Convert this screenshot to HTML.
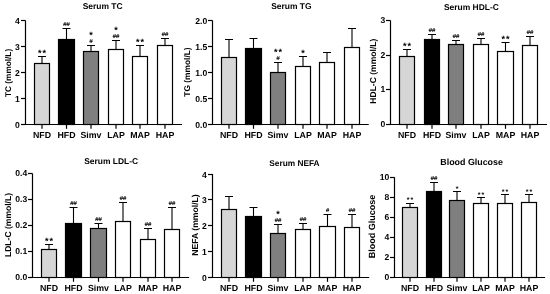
<!DOCTYPE html>
<html><head><meta charset="utf-8"><title>Serum lipid panels</title>
<style>
html,body{margin:0;padding:0;background:#fff;}
body{width:550px;height:294px;overflow:hidden;}
svg{display:block;font-family:'Liberation Sans', Arial, sans-serif;text-rendering:geometricPrecision;}
.wrap{}
text{fill:#000;}
.h{font-size:5.6px;stroke:#000;stroke-width:0.15px;}
.s{font-size:9px;font-weight:bold;letter-spacing:0.8px;}
.ss{font-size:7px;font-weight:bold;letter-spacing:1.2px;}
</style></head>
<body>
<div class="wrap"><svg width="550" height="294" viewBox="0 0 550 294">
<rect width="550" height="294" fill="#fff"/>
<g>
<text x="102.6" y="8.6" text-anchor="middle" font-size="8.45" font-weight="bold">Serum TC</text>
<text transform="translate(11.4,72.9) rotate(-90)" text-anchor="middle" font-size="8.25" font-weight="bold">TC (mmol/L)</text>
<rect x="34.5" y="63.5" width="15" height="61" fill="#d6d6d6" stroke="#000" stroke-width="1.2"/>
<path d="M42 63.5V56.5M38 56.5H46" stroke="#000" stroke-width="1.1" fill="none"/>
<text x="42.4" y="56.47" text-anchor="middle" class="s">**</text>
<path d="M42 124.5V128.8" stroke="#000" stroke-width="1.2"/>
<text x="42" y="137.9" text-anchor="middle" font-size="8.8" font-weight="bold">NFD</text>
<rect x="58.5" y="39.5" width="16" height="85" fill="#000" stroke="#000" stroke-width="1.2"/>
<path d="M66.5 39.5V28.5M62.5 28.5H70.5" stroke="#000" stroke-width="1.1" fill="none"/>
<text x="66.5" y="25.55" text-anchor="middle" textLength="6.6" lengthAdjust="spacingAndGlyphs" class="h">##</text>
<path d="M66.5 124.5V128.8" stroke="#000" stroke-width="1.2"/>
<text x="66.5" y="137.9" text-anchor="middle" font-size="8.8" font-weight="bold">HFD</text>
<rect x="83.5" y="51.5" width="15" height="73" fill="#7f7f7f" stroke="#000" stroke-width="1.2"/>
<path d="M91 51.5V45.5M87 45.5H95" stroke="#000" stroke-width="1.1" fill="none"/>
<text x="91" y="42.55" text-anchor="middle" textLength="3.2" lengthAdjust="spacingAndGlyphs" class="h">#</text>
<text x="91.4" y="37.97" text-anchor="middle" class="s">*</text>
<path d="M91 124.5V128.8" stroke="#000" stroke-width="1.2"/>
<text x="91" y="137.9" text-anchor="middle" font-size="8.8" font-weight="bold">Simv</text>
<rect x="108.5" y="49.5" width="15" height="75" fill="#fff" stroke="#000" stroke-width="1.2"/>
<path d="M116 49.5V40.5M112 40.5H120" stroke="#000" stroke-width="1.1" fill="none"/>
<text x="116" y="37.55" text-anchor="middle" textLength="6.6" lengthAdjust="spacingAndGlyphs" class="h">##</text>
<text x="116.4" y="32.97" text-anchor="middle" class="s">*</text>
<path d="M116 124.5V128.8" stroke="#000" stroke-width="1.2"/>
<text x="116" y="137.9" text-anchor="middle" font-size="8.8" font-weight="bold">LAP</text>
<rect x="132.5" y="56.5" width="15" height="68" fill="#fff" stroke="#000" stroke-width="1.2"/>
<path d="M140 56.5V45.5M136 45.5H144" stroke="#000" stroke-width="1.1" fill="none"/>
<text x="140.4" y="45.47" text-anchor="middle" class="s">**</text>
<path d="M140 124.5V128.8" stroke="#000" stroke-width="1.2"/>
<text x="140" y="137.9" text-anchor="middle" font-size="8.8" font-weight="bold">MAP</text>
<rect x="157.5" y="45.5" width="15" height="79" fill="#fff" stroke="#000" stroke-width="1.2"/>
<path d="M165 45.5V38.5M161 38.5H169" stroke="#000" stroke-width="1.1" fill="none"/>
<text x="165" y="35.55" text-anchor="middle" textLength="6.6" lengthAdjust="spacingAndGlyphs" class="h">##</text>
<path d="M165 124.5V128.8" stroke="#000" stroke-width="1.2"/>
<text x="165" y="137.9" text-anchor="middle" font-size="8.8" font-weight="bold">HAP</text>
<path d="M25.5 20.4V124.5H182" stroke="#000" stroke-width="1.2" fill="none"/>
<path d="M21 124.5H25.5" stroke="#000" stroke-width="1.2"/>
<text x="19.9" y="128.05" text-anchor="end" font-size="8.6" font-weight="bold">0</text>
<path d="M21 98.5H25.5" stroke="#000" stroke-width="1.2"/>
<text x="19.9" y="102.05" text-anchor="end" font-size="8.6" font-weight="bold">1</text>
<path d="M21 72.5H25.5" stroke="#000" stroke-width="1.2"/>
<text x="19.9" y="76.05" text-anchor="end" font-size="8.6" font-weight="bold">2</text>
<path d="M21 46.5H25.5" stroke="#000" stroke-width="1.2"/>
<text x="19.9" y="50.05" text-anchor="end" font-size="8.6" font-weight="bold">3</text>
<path d="M21 20.5H25.5" stroke="#000" stroke-width="1.2"/>
<text x="19.9" y="24.05" text-anchor="end" font-size="8.6" font-weight="bold">4</text>
</g>
<g>
<text x="291.4" y="8.5" text-anchor="middle" font-size="8.45" font-weight="bold">Serum TG</text>
<text transform="translate(190.4,72) rotate(-90)" text-anchor="middle" font-size="8.4" font-weight="bold">TG (mmol/L)</text>
<rect x="221.5" y="57.5" width="15" height="67" fill="#d6d6d6" stroke="#000" stroke-width="1.2"/>
<path d="M229 57.5V39.5M225 39.5H233" stroke="#000" stroke-width="1.1" fill="none"/>
<path d="M229 124.5V128.8" stroke="#000" stroke-width="1.2"/>
<text x="229" y="137.9" text-anchor="middle" font-size="8.8" font-weight="bold">NFD</text>
<rect x="245.5" y="48.5" width="16" height="76" fill="#000" stroke="#000" stroke-width="1.2"/>
<path d="M253.5 48.5V38.5M249.5 38.5H257.5" stroke="#000" stroke-width="1.1" fill="none"/>
<path d="M253.5 124.5V128.8" stroke="#000" stroke-width="1.2"/>
<text x="253.5" y="137.9" text-anchor="middle" font-size="8.8" font-weight="bold">HFD</text>
<rect x="270.5" y="72.5" width="15" height="52" fill="#7f7f7f" stroke="#000" stroke-width="1.2"/>
<path d="M278 72.5V62.5M274 62.5H282" stroke="#000" stroke-width="1.1" fill="none"/>
<text x="278" y="59.55" text-anchor="middle" textLength="3.2" lengthAdjust="spacingAndGlyphs" class="h">#</text>
<text x="278.4" y="54.97" text-anchor="middle" class="s">**</text>
<path d="M278 124.5V128.8" stroke="#000" stroke-width="1.2"/>
<text x="278" y="137.9" text-anchor="middle" font-size="8.8" font-weight="bold">Simv</text>
<rect x="295.5" y="66.5" width="15" height="58" fill="#fff" stroke="#000" stroke-width="1.2"/>
<path d="M303 66.5V56.5M299 56.5H307" stroke="#000" stroke-width="1.1" fill="none"/>
<text x="303.4" y="56.47" text-anchor="middle" class="s">*</text>
<path d="M303 124.5V128.8" stroke="#000" stroke-width="1.2"/>
<text x="303" y="137.9" text-anchor="middle" font-size="8.8" font-weight="bold">LAP</text>
<rect x="319.5" y="62.5" width="15" height="62" fill="#fff" stroke="#000" stroke-width="1.2"/>
<path d="M327 62.5V52.5M323 52.5H331" stroke="#000" stroke-width="1.1" fill="none"/>
<path d="M327 124.5V128.8" stroke="#000" stroke-width="1.2"/>
<text x="327" y="137.9" text-anchor="middle" font-size="8.8" font-weight="bold">MAP</text>
<rect x="344.5" y="47.5" width="15" height="77" fill="#fff" stroke="#000" stroke-width="1.2"/>
<path d="M352 47.5V28.5M348 28.5H356" stroke="#000" stroke-width="1.1" fill="none"/>
<path d="M352 124.5V128.8" stroke="#000" stroke-width="1.2"/>
<text x="352" y="137.9" text-anchor="middle" font-size="8.8" font-weight="bold">HAP</text>
<path d="M212.5 20.4V124.5H368.8" stroke="#000" stroke-width="1.2" fill="none"/>
<path d="M208 124.5H212.5" stroke="#000" stroke-width="1.2"/>
<text x="207.2" y="128.05" text-anchor="end" font-size="8.6" font-weight="bold">0.0</text>
<path d="M208 98.5H212.5" stroke="#000" stroke-width="1.2"/>
<text x="207.2" y="102.05" text-anchor="end" font-size="8.6" font-weight="bold">0.5</text>
<path d="M208 72.5H212.5" stroke="#000" stroke-width="1.2"/>
<text x="207.2" y="76.05" text-anchor="end" font-size="8.6" font-weight="bold">1.0</text>
<path d="M208 46.5H212.5" stroke="#000" stroke-width="1.2"/>
<text x="207.2" y="50.05" text-anchor="end" font-size="8.6" font-weight="bold">1.5</text>
<path d="M208 20.5H212.5" stroke="#000" stroke-width="1.2"/>
<text x="207.2" y="24.05" text-anchor="end" font-size="8.6" font-weight="bold">2.0</text>
</g>
<g>
<text x="471.4" y="10.1" text-anchor="middle" font-size="8.45" font-weight="bold">Serum HDL-C</text>
<text transform="translate(376.3,71.2) rotate(-90)" text-anchor="middle" font-size="8.55" font-weight="bold">HDL-C (mmol/L)</text>
<rect x="399.5" y="56.5" width="15" height="68" fill="#d6d6d6" stroke="#000" stroke-width="1.2"/>
<path d="M407 56.5V49.5M403 49.5H411" stroke="#000" stroke-width="1.1" fill="none"/>
<text x="407.4" y="49.47" text-anchor="middle" class="s">**</text>
<path d="M407 124.5V128.8" stroke="#000" stroke-width="1.2"/>
<text x="407" y="137.9" text-anchor="middle" font-size="8.8" font-weight="bold">NFD</text>
<rect x="424.5" y="39.5" width="15" height="85" fill="#000" stroke="#000" stroke-width="1.2"/>
<path d="M432 39.5V34.5M428 34.5H436" stroke="#000" stroke-width="1.1" fill="none"/>
<text x="432" y="31.55" text-anchor="middle" textLength="6.6" lengthAdjust="spacingAndGlyphs" class="h">##</text>
<path d="M432 124.5V128.8" stroke="#000" stroke-width="1.2"/>
<text x="432" y="137.9" text-anchor="middle" font-size="8.8" font-weight="bold">HFD</text>
<rect x="448.5" y="44.5" width="15" height="80" fill="#7f7f7f" stroke="#000" stroke-width="1.2"/>
<path d="M456 44.5V40.5M452 40.5H460" stroke="#000" stroke-width="1.1" fill="none"/>
<text x="456" y="37.55" text-anchor="middle" textLength="6.6" lengthAdjust="spacingAndGlyphs" class="h">##</text>
<path d="M456 124.5V128.8" stroke="#000" stroke-width="1.2"/>
<text x="456" y="137.9" text-anchor="middle" font-size="8.8" font-weight="bold">Simv</text>
<rect x="473.5" y="44.5" width="15" height="80" fill="#fff" stroke="#000" stroke-width="1.2"/>
<path d="M481 44.5V38.5M477 38.5H485" stroke="#000" stroke-width="1.1" fill="none"/>
<text x="481" y="35.55" text-anchor="middle" textLength="6.6" lengthAdjust="spacingAndGlyphs" class="h">##</text>
<path d="M481 124.5V128.8" stroke="#000" stroke-width="1.2"/>
<text x="481" y="137.9" text-anchor="middle" font-size="8.8" font-weight="bold">LAP</text>
<rect x="497.5" y="51.5" width="16" height="73" fill="#fff" stroke="#000" stroke-width="1.2"/>
<path d="M505.5 51.5V42.5M501.5 42.5H509.5" stroke="#000" stroke-width="1.1" fill="none"/>
<text x="505.9" y="42.47" text-anchor="middle" class="s">**</text>
<path d="M505.5 124.5V128.8" stroke="#000" stroke-width="1.2"/>
<text x="505.5" y="137.9" text-anchor="middle" font-size="8.8" font-weight="bold">MAP</text>
<rect x="522.5" y="45.5" width="15" height="79" fill="#fff" stroke="#000" stroke-width="1.2"/>
<path d="M530 45.5V36.5M526 36.5H534" stroke="#000" stroke-width="1.1" fill="none"/>
<text x="530" y="33.55" text-anchor="middle" textLength="6.6" lengthAdjust="spacingAndGlyphs" class="h">##</text>
<path d="M530 124.5V128.8" stroke="#000" stroke-width="1.2"/>
<text x="530" y="137.9" text-anchor="middle" font-size="8.8" font-weight="bold">HAP</text>
<path d="M390.5 20.6V124.5H547" stroke="#000" stroke-width="1.2" fill="none"/>
<path d="M386 124.5H390.5" stroke="#000" stroke-width="1.2"/>
<text x="385.2" y="127.45" text-anchor="end" font-size="8.6" font-weight="bold">0</text>
<path d="M386 89.5H390.5" stroke="#000" stroke-width="1.2"/>
<text x="385.2" y="92.45" text-anchor="end" font-size="8.6" font-weight="bold">1</text>
<path d="M386 55.5H390.5" stroke="#000" stroke-width="1.2"/>
<text x="385.2" y="58.45" text-anchor="end" font-size="8.6" font-weight="bold">2</text>
<path d="M386 20.5H390.5" stroke="#000" stroke-width="1.2"/>
<text x="385.2" y="23.45" text-anchor="end" font-size="8.6" font-weight="bold">3</text>
</g>
<g>
<text x="111.2" y="163.9" text-anchor="middle" font-size="8.45" font-weight="bold">Serum LDL-C</text>
<text transform="translate(10.9,225) rotate(-90)" text-anchor="middle" font-size="8.55" font-weight="bold">LDL-C (mmol/L)</text>
<rect x="41.5" y="249.5" width="15" height="28" fill="#d6d6d6" stroke="#000" stroke-width="1.2"/>
<path d="M49 249.5V244.5M45 244.5H53" stroke="#000" stroke-width="1.1" fill="none"/>
<text x="49.4" y="244.47" text-anchor="middle" class="s">**</text>
<path d="M49 277.5V281.8" stroke="#000" stroke-width="1.2"/>
<text x="49" y="290.9" text-anchor="middle" font-size="8.8" font-weight="bold">NFD</text>
<rect x="65.5" y="223.5" width="16" height="54" fill="#000" stroke="#000" stroke-width="1.2"/>
<path d="M73.5 223.5V207.5M69.5 207.5H77.5" stroke="#000" stroke-width="1.1" fill="none"/>
<text x="73.5" y="204.55" text-anchor="middle" textLength="6.6" lengthAdjust="spacingAndGlyphs" class="h">##</text>
<path d="M73.5 277.5V281.8" stroke="#000" stroke-width="1.2"/>
<text x="73.5" y="290.9" text-anchor="middle" font-size="8.8" font-weight="bold">HFD</text>
<rect x="90.5" y="228.5" width="16" height="49" fill="#7f7f7f" stroke="#000" stroke-width="1.2"/>
<path d="M98.5 228.5V223.5M94.5 223.5H102.5" stroke="#000" stroke-width="1.1" fill="none"/>
<text x="98.5" y="220.55" text-anchor="middle" textLength="6.6" lengthAdjust="spacingAndGlyphs" class="h">##</text>
<path d="M98.5 277.5V281.8" stroke="#000" stroke-width="1.2"/>
<text x="98.5" y="290.9" text-anchor="middle" font-size="8.8" font-weight="bold">Simv</text>
<rect x="115.5" y="221.5" width="15" height="56" fill="#fff" stroke="#000" stroke-width="1.2"/>
<path d="M123 221.5V202.5M119 202.5H127" stroke="#000" stroke-width="1.1" fill="none"/>
<text x="123" y="199.55" text-anchor="middle" textLength="6.6" lengthAdjust="spacingAndGlyphs" class="h">##</text>
<path d="M123 277.5V281.8" stroke="#000" stroke-width="1.2"/>
<text x="123" y="290.9" text-anchor="middle" font-size="8.8" font-weight="bold">LAP</text>
<rect x="140.5" y="239.5" width="15" height="38" fill="#fff" stroke="#000" stroke-width="1.2"/>
<path d="M148 239.5V228.5M144 228.5H152" stroke="#000" stroke-width="1.1" fill="none"/>
<text x="148" y="225.55" text-anchor="middle" textLength="6.6" lengthAdjust="spacingAndGlyphs" class="h">##</text>
<path d="M148 277.5V281.8" stroke="#000" stroke-width="1.2"/>
<text x="148" y="290.9" text-anchor="middle" font-size="8.8" font-weight="bold">MAP</text>
<rect x="164.5" y="229.5" width="15" height="48" fill="#fff" stroke="#000" stroke-width="1.2"/>
<path d="M172 229.5V207.5M168 207.5H176" stroke="#000" stroke-width="1.1" fill="none"/>
<text x="172" y="204.55" text-anchor="middle" textLength="6.6" lengthAdjust="spacingAndGlyphs" class="h">##</text>
<path d="M172 277.5V281.8" stroke="#000" stroke-width="1.2"/>
<text x="172" y="290.9" text-anchor="middle" font-size="8.8" font-weight="bold">HAP</text>
<path d="M32.5 173.5V277.5H189.1" stroke="#000" stroke-width="1.2" fill="none"/>
<path d="M28 277.5H32.5" stroke="#000" stroke-width="1.2"/>
<text x="27.2" y="280.45" text-anchor="end" font-size="8.6" font-weight="bold">0.0</text>
<path d="M28 251.5H32.5" stroke="#000" stroke-width="1.2"/>
<text x="27.2" y="254.45" text-anchor="end" font-size="8.6" font-weight="bold">0.1</text>
<path d="M28 225.5H32.5" stroke="#000" stroke-width="1.2"/>
<text x="27.2" y="228.45" text-anchor="end" font-size="8.6" font-weight="bold">0.2</text>
<path d="M28 199.5H32.5" stroke="#000" stroke-width="1.2"/>
<text x="27.2" y="202.45" text-anchor="end" font-size="8.6" font-weight="bold">0.3</text>
<path d="M28 173.5H32.5" stroke="#000" stroke-width="1.2"/>
<text x="27.2" y="176.45" text-anchor="end" font-size="8.6" font-weight="bold">0.4</text>
</g>
<g>
<text x="294.4" y="165.7" text-anchor="middle" font-size="8.3" font-weight="bold">Serum NEFA</text>
<text transform="translate(197.6,225) rotate(-90)" text-anchor="middle" font-size="8.65" font-weight="bold">NEFA (mmol/L)</text>
<rect x="221.5" y="209.5" width="15" height="68" fill="#d6d6d6" stroke="#000" stroke-width="1.2"/>
<path d="M229 209.5V196.5M225 196.5H233" stroke="#000" stroke-width="1.1" fill="none"/>
<path d="M229 277.5V281.8" stroke="#000" stroke-width="1.2"/>
<text x="229" y="290.9" text-anchor="middle" font-size="8.8" font-weight="bold">NFD</text>
<rect x="245.5" y="216.5" width="16" height="61" fill="#000" stroke="#000" stroke-width="1.2"/>
<path d="M253.5 216.5V207.5M249.5 207.5H257.5" stroke="#000" stroke-width="1.1" fill="none"/>
<path d="M253.5 277.5V281.8" stroke="#000" stroke-width="1.2"/>
<text x="253.5" y="290.9" text-anchor="middle" font-size="8.8" font-weight="bold">HFD</text>
<rect x="270.5" y="233.5" width="15" height="44" fill="#7f7f7f" stroke="#000" stroke-width="1.2"/>
<path d="M278 233.5V224.5M274 224.5H282" stroke="#000" stroke-width="1.1" fill="none"/>
<text x="278" y="221.55" text-anchor="middle" textLength="6.6" lengthAdjust="spacingAndGlyphs" class="h">##</text>
<text x="278.4" y="216.97" text-anchor="middle" class="s">*</text>
<path d="M278 277.5V281.8" stroke="#000" stroke-width="1.2"/>
<text x="278" y="290.9" text-anchor="middle" font-size="8.8" font-weight="bold">Simv</text>
<rect x="295.5" y="229.5" width="15" height="48" fill="#fff" stroke="#000" stroke-width="1.2"/>
<path d="M303 229.5V223.5M299 223.5H307" stroke="#000" stroke-width="1.1" fill="none"/>
<text x="303" y="220.55" text-anchor="middle" textLength="6.6" lengthAdjust="spacingAndGlyphs" class="h">##</text>
<path d="M303 277.5V281.8" stroke="#000" stroke-width="1.2"/>
<text x="303" y="290.9" text-anchor="middle" font-size="8.8" font-weight="bold">LAP</text>
<rect x="319.5" y="226.5" width="16" height="51" fill="#fff" stroke="#000" stroke-width="1.2"/>
<path d="M327.5 226.5V214.5M323.5 214.5H331.5" stroke="#000" stroke-width="1.1" fill="none"/>
<text x="327.5" y="211.55" text-anchor="middle" textLength="3.2" lengthAdjust="spacingAndGlyphs" class="h">#</text>
<path d="M327.5 277.5V281.8" stroke="#000" stroke-width="1.2"/>
<text x="327.5" y="290.9" text-anchor="middle" font-size="8.8" font-weight="bold">MAP</text>
<rect x="344.5" y="227.5" width="15" height="50" fill="#fff" stroke="#000" stroke-width="1.2"/>
<path d="M352 227.5V214.5M348 214.5H356" stroke="#000" stroke-width="1.1" fill="none"/>
<text x="352" y="211.55" text-anchor="middle" textLength="6.6" lengthAdjust="spacingAndGlyphs" class="h">##</text>
<path d="M352 277.5V281.8" stroke="#000" stroke-width="1.2"/>
<text x="352" y="290.9" text-anchor="middle" font-size="8.8" font-weight="bold">HAP</text>
<path d="M212.5 174.1V277.5H369.2" stroke="#000" stroke-width="1.2" fill="none"/>
<path d="M208 277.5H212.5" stroke="#000" stroke-width="1.2"/>
<text x="206.8" y="280.75" text-anchor="end" font-size="8.6" font-weight="bold">0</text>
<path d="M208 251.5H212.5" stroke="#000" stroke-width="1.2"/>
<text x="206.8" y="254.75" text-anchor="end" font-size="8.6" font-weight="bold">1</text>
<path d="M208 225.5H212.5" stroke="#000" stroke-width="1.2"/>
<text x="206.8" y="228.75" text-anchor="end" font-size="8.6" font-weight="bold">2</text>
<path d="M208 199.5H212.5" stroke="#000" stroke-width="1.2"/>
<text x="206.8" y="202.75" text-anchor="end" font-size="8.6" font-weight="bold">3</text>
<path d="M208 174.5H212.5" stroke="#000" stroke-width="1.2"/>
<text x="206.8" y="177.75" text-anchor="end" font-size="8.6" font-weight="bold">4</text>
</g>
<g>
<text x="471.6" y="165.3" text-anchor="middle" font-size="8.9" font-weight="bold">Blood Glucose</text>
<text transform="translate(375.4,226.6) rotate(-90)" text-anchor="middle" font-size="9.0" font-weight="bold">Blood Glucose</text>
<rect x="402.5" y="207.5" width="15" height="70" fill="#d6d6d6" stroke="#000" stroke-width="1.2"/>
<path d="M410 207.5V203.5M406 203.5H414" stroke="#000" stroke-width="1.1" fill="none"/>
<text x="410.6" y="202.18" text-anchor="middle" class="ss">**</text>
<path d="M410 277.5V281.8" stroke="#000" stroke-width="1.2"/>
<text x="410" y="290.9" text-anchor="middle" font-size="8.8" font-weight="bold">NFD</text>
<rect x="426.5" y="191.5" width="15" height="86" fill="#000" stroke="#000" stroke-width="1.2"/>
<path d="M434 191.5V182.5M430 182.5H438" stroke="#000" stroke-width="1.1" fill="none"/>
<text x="434" y="179.55" text-anchor="middle" textLength="6.6" lengthAdjust="spacingAndGlyphs" class="h">##</text>
<path d="M434 277.5V281.8" stroke="#000" stroke-width="1.2"/>
<text x="434" y="290.9" text-anchor="middle" font-size="8.8" font-weight="bold">HFD</text>
<rect x="449.5" y="200.5" width="15" height="77" fill="#7f7f7f" stroke="#000" stroke-width="1.2"/>
<path d="M457 200.5V191.5M453 191.5H461" stroke="#000" stroke-width="1.1" fill="none"/>
<text x="457.6" y="190.58" text-anchor="middle" class="ss">*</text>
<path d="M457 277.5V281.8" stroke="#000" stroke-width="1.2"/>
<text x="457" y="290.9" text-anchor="middle" font-size="8.8" font-weight="bold">Simv</text>
<rect x="473.5" y="203.5" width="15" height="74" fill="#fff" stroke="#000" stroke-width="1.2"/>
<path d="M481 203.5V197.5M477 197.5H485" stroke="#000" stroke-width="1.1" fill="none"/>
<text x="481.6" y="196.58" text-anchor="middle" class="ss">**</text>
<path d="M481 277.5V281.8" stroke="#000" stroke-width="1.2"/>
<text x="481" y="290.9" text-anchor="middle" font-size="8.8" font-weight="bold">LAP</text>
<rect x="497.5" y="203.5" width="15" height="74" fill="#fff" stroke="#000" stroke-width="1.2"/>
<path d="M505 203.5V194.5M501 194.5H509" stroke="#000" stroke-width="1.1" fill="none"/>
<text x="505.6" y="193.58" text-anchor="middle" class="ss">**</text>
<path d="M505 277.5V281.8" stroke="#000" stroke-width="1.2"/>
<text x="505" y="290.9" text-anchor="middle" font-size="8.8" font-weight="bold">MAP</text>
<rect x="521.5" y="202.5" width="15" height="75" fill="#fff" stroke="#000" stroke-width="1.2"/>
<path d="M529 202.5V194.5M525 194.5H533" stroke="#000" stroke-width="1.1" fill="none"/>
<text x="529.6" y="193.58" text-anchor="middle" class="ss">**</text>
<path d="M529 277.5V281.8" stroke="#000" stroke-width="1.2"/>
<text x="529" y="290.9" text-anchor="middle" font-size="8.8" font-weight="bold">HAP</text>
<path d="M394.5 177.2V277.5H545.1" stroke="#000" stroke-width="1.2" fill="none"/>
<path d="M390 277.5H394.5" stroke="#000" stroke-width="1.2"/>
<text x="389.2" y="280.45" text-anchor="end" font-size="8.6" font-weight="bold">0</text>
<path d="M390 257.5H394.5" stroke="#000" stroke-width="1.2"/>
<text x="389.2" y="260.45" text-anchor="end" font-size="8.6" font-weight="bold">2</text>
<path d="M390 237.5H394.5" stroke="#000" stroke-width="1.2"/>
<text x="389.2" y="240.45" text-anchor="end" font-size="8.6" font-weight="bold">4</text>
<path d="M390 217.5H394.5" stroke="#000" stroke-width="1.2"/>
<text x="389.2" y="220.45" text-anchor="end" font-size="8.6" font-weight="bold">6</text>
<path d="M390 197.5H394.5" stroke="#000" stroke-width="1.2"/>
<text x="389.2" y="200.45" text-anchor="end" font-size="8.6" font-weight="bold">8</text>
<path d="M390 177.5H394.5" stroke="#000" stroke-width="1.2"/>
<text x="389.2" y="180.45" text-anchor="end" font-size="8.6" font-weight="bold">10</text>
</g>
</svg></div>
</body></html>
